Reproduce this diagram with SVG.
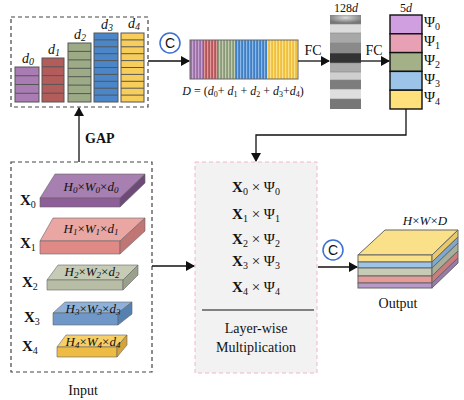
<svg xmlns="http://www.w3.org/2000/svg" width="464" height="400" viewBox="0 0 464 400">
<style>
.t{font-family:"Liberation Serif",serif;fill:#111}
.i{font-style:italic}
.b{font-weight:bold}
.dash{fill:none;stroke:#444;stroke-width:1.2;stroke-dasharray:4 3}
.seg{stroke:#555;stroke-width:1}
.line{fill:none;stroke:#111;stroke-width:1.3}
.circ{fill:#fff;stroke:#3a6fd0;stroke-width:1.5}
.ct{font-family:"Liberation Sans",sans-serif;font-size:14px;fill:#111}
.sl{stroke:#666;stroke-width:0.6}
.ob{stroke:#666;stroke-width:1}
.sb{font-size:13px}
</style>
<defs>
<marker id="ah" markerWidth="10" markerHeight="10" refX="8" refY="5" orient="auto" markerUnits="userSpaceOnUse">
<path d="M0,0 L9,5 L0,10 Z" fill="#111"/>
</marker>
<pattern id="pP" width="3" height="10" patternUnits="userSpaceOnUse"><rect width="3" height="10" fill="#9a6ea6"/><rect width="1.2" height="10" fill="#c6a3d0"/></pattern>
<pattern id="pR" width="3" height="10" patternUnits="userSpaceOnUse"><rect width="3" height="10" fill="#b5555a"/><rect width="1.2" height="10" fill="#e09a9a"/></pattern>
<pattern id="pG" width="3" height="10" patternUnits="userSpaceOnUse"><rect width="3" height="10" fill="#8a9a78"/><rect width="1.2" height="10" fill="#c3ccb0"/></pattern>
<pattern id="pB" width="3" height="10" patternUnits="userSpaceOnUse"><rect width="3" height="10" fill="#3f7fc6"/><rect width="1.2" height="10" fill="#8cb8e6"/></pattern>
<pattern id="pY" width="3" height="10" patternUnits="userSpaceOnUse"><rect width="3" height="10" fill="#f0bf3c"/><rect width="1.2" height="10" fill="#fbe08a"/></pattern>
<radialGradient id="gTop" cx="0.5" cy="0.3" r="0.6"><stop offset="0" stop-color="#d8d8d8"/><stop offset="1" stop-color="#777"/></radialGradient>
</defs>

<g id="gap-features">
<rect class="dash" x="11" y="17" width="137" height="90"/>
<rect x="15" y="67" width="24" height="35" fill="#a97db4" stroke="#555"/>
<path class="seg" d="M15,75.75H39M15,84.5H39M15,93.25H39"/>
<rect x="42" y="58" width="22" height="44" fill="#b35c5c" stroke="#555"/>
<path class="seg" d="M42,66.8H64M42,75.6H64M42,84.4H64M42,93.2H64"/>
<rect x="68" y="43" width="23" height="59" fill="#9cab86" stroke="#555"/>
<path class="seg" d="M68,51.4H91M68,59.9H91M68,68.3H91M68,76.7H91M68,85.1H91M68,93.6H91"/>
<rect x="94" y="33" width="24" height="69" fill="#4a86c8" stroke="#555"/>
<path class="seg" d="M94,39.9H118M94,46.8H118M94,53.7H118M94,60.6H118M94,67.5H118M94,74.4H118M94,81.3H118M94,88.2H118M94,95.1H118"/>
<rect x="121" y="33" width="23" height="69" fill="#f7cd5c" stroke="#555"/>
<path class="seg" d="M121,39.9H144M121,46.8H144M121,53.7H144M121,60.6H144M121,67.5H144M121,74.4H144M121,81.3H144M121,88.2H144M121,95.1H144"/>
<text class="t i" x="22" y="63" font-size="14">d<tspan font-size="10" dy="2">0</tspan></text>
<text class="t i" x="48" y="54" font-size="14">d<tspan font-size="10" dy="2">1</tspan></text>
<text class="t i" x="74" y="39" font-size="14">d<tspan font-size="10" dy="2">2</tspan></text>
<text class="t i" x="101" y="29" font-size="14">d<tspan font-size="10" dy="2">3</tspan></text>
<text class="t i" x="128" y="28" font-size="14">d<tspan font-size="10" dy="2">4</tspan></text>
</g>

<g id="concat-vector">
<rect x="190" y="40" width="13" height="39" fill="url(#pP)"/>
<rect x="203" y="40" width="15" height="39" fill="url(#pR)"/>
<rect x="218" y="40" width="17" height="39" fill="url(#pG)"/>
<rect x="235" y="40" width="32" height="39" fill="url(#pB)"/>
<rect x="267" y="40" width="31" height="39" fill="url(#pY)"/>
<rect x="190" y="40" width="108" height="39" fill="none" stroke="#666" stroke-width="1"/>
<text class="t" x="243" y="95" font-size="12" text-anchor="middle"><tspan class="i">D</tspan> = (<tspan class="i">d</tspan><tspan font-size="8" dy="2">0</tspan><tspan dy="-2">+ </tspan><tspan class="i">d</tspan><tspan font-size="8" dy="2">1</tspan><tspan dy="-2"> + </tspan><tspan class="i">d</tspan><tspan font-size="8" dy="2">2</tspan><tspan dy="-2"> + </tspan><tspan class="i">d</tspan><tspan font-size="8" dy="2">3</tspan><tspan dy="-2">+</tspan><tspan class="i">d</tspan><tspan font-size="8" dy="2">4</tspan><tspan dy="-2">)</tspan></text>
</g>

<g id="fc-128d">
<rect x="330" y="15" width="31" height="9" fill="url(#gTop)"/>
<rect x="330" y="24" width="31" height="9" fill="#dcdcdc"/>
<rect x="330" y="33" width="31" height="10" fill="#a8a8a8"/>
<rect x="330" y="43" width="31" height="10" fill="#8a8a8a"/>
<rect x="330" y="53" width="31" height="10" fill="#333"/>
<rect x="330" y="63" width="31" height="9" fill="#ababab"/>
<rect x="330" y="72" width="31" height="8" fill="#cfcfcf"/>
<rect x="330" y="80" width="31" height="9" fill="#7d7d7d"/>
<rect x="330" y="89" width="31" height="10" fill="#dedede"/>
<rect x="330" y="99" width="31" height="10" fill="#777"/>
<path d="M330,24H361M330,33H361M330,43H361M330,53H361M330,63H361M330,72H361M330,80H361M330,89H361M330,99H361" stroke="#888" stroke-width="0.6"/>
<text class="t" x="346" y="12" font-size="12" text-anchor="middle">128<tspan class="i">d</tspan></text>
</g>

<g id="fc-5d">
<rect x="390" y="15" width="32" height="18.8" fill="#cf9fe0" stroke="#111" stroke-width="1.4"/>
<rect x="390" y="33.8" width="32" height="18.8" fill="#e8a0b4" stroke="#111" stroke-width="1.4"/>
<rect x="390" y="52.6" width="32" height="18.8" fill="#a4b088" stroke="#111" stroke-width="1.4"/>
<rect x="390" y="71.4" width="32" height="18.8" fill="#9cc4e8" stroke="#111" stroke-width="1.4"/>
<rect x="390" y="90.2" width="32" height="18.8" fill="#ffe07a" stroke="#111" stroke-width="1.4"/>
<text class="t" x="406" y="12" font-size="12" text-anchor="middle">5<tspan class="i">d</tspan></text>
<text class="t" x="424" y="27" font-size="15">Ψ<tspan font-size="10" dy="3">0</tspan></text>
<text class="t" x="424" y="46" font-size="15">Ψ<tspan font-size="10" dy="3">1</tspan></text>
<text class="t" x="424" y="65" font-size="15">Ψ<tspan font-size="10" dy="3">2</tspan></text>
<text class="t" x="424" y="84" font-size="15">Ψ<tspan font-size="10" dy="3">3</tspan></text>
<text class="t" x="424" y="102" font-size="15">Ψ<tspan font-size="10" dy="3">4</tspan></text>
</g>

<g id="input">
<rect class="dash" x="11" y="162" width="141" height="210"/>
<polygon points="55,174 145,174 120,198 40,198" fill="#a77fb0" class="sl"/>
<polygon points="40,198 120,198 120,207 40,207" fill="#8e5e98" class="sl"/>
<polygon points="120,198 145,174 145,183 120,207" fill="#6e4a78" class="sl"/>
<text class="t i sb" x="91" y="191" text-anchor="middle">H<tspan font-size="9" dy="2">0</tspan><tspan dy="-2" font-style="normal">×</tspan>W<tspan font-size="9" dy="2">0</tspan><tspan dy="-2" font-style="normal">×</tspan>d<tspan font-size="9" dy="2">0</tspan></text>
<text class="t b" x="20" y="205" font-size="15">X<tspan font-size="10" font-weight="normal" dy="3">0</tspan></text>

<polygon points="53,218 145,218 120,241 40,241" fill="#e9a6a3" class="sl"/>
<polygon points="40,241 120,241 120,254 40,254" fill="#e08a88" class="sl"/>
<polygon points="120,241 145,218 145,231 120,254" fill="#c07674" class="sl"/>
<text class="t i sb" x="91" y="233" text-anchor="middle">H<tspan font-size="9" dy="2">1</tspan><tspan dy="-2" font-style="normal">×</tspan>W<tspan font-size="9" dy="2">1</tspan><tspan dy="-2" font-style="normal">×</tspan>d<tspan font-size="9" dy="2">1</tspan></text>
<text class="t b" x="20" y="248" font-size="15">X<tspan font-size="10" font-weight="normal" dy="3">1</tspan></text>

<polygon points="58,265 138,265 123,280 47,280" fill="#c6cbb6" class="sl"/>
<polygon points="47,280 123,280 123,290 47,290" fill="#b8bea6" class="sl"/>
<polygon points="123,280 138,265 138,275 123,290" fill="#9aa18b" class="sl"/>
<text class="t i sb" x="92" y="276" text-anchor="middle">H<tspan font-size="9" dy="2">2</tspan><tspan dy="-2" font-style="normal">×</tspan>W<tspan font-size="9" dy="2">2</tspan><tspan dy="-2" font-style="normal">×</tspan>d<tspan font-size="9" dy="2">2</tspan></text>
<text class="t b" x="22" y="287" font-size="15">X<tspan font-size="10" font-weight="normal" dy="3">2</tspan></text>

<polygon points="65,302 132,302 118,313 53,313" fill="#8fb1d9" class="sl"/>
<polygon points="53,313 118,313 118,325 53,325" fill="#6f98c8" class="sl"/>
<polygon points="118,313 132,302 132,314 118,325" fill="#5580b0" class="sl"/>
<text class="t i sb" x="93" y="313" text-anchor="middle">H<tspan font-size="9" dy="2">3</tspan><tspan dy="-2" font-style="normal">×</tspan>W<tspan font-size="9" dy="2">3</tspan><tspan dy="-2" font-style="normal">×</tspan>d<tspan font-size="9" dy="2">3</tspan></text>
<text class="t b" x="24" y="322" font-size="15">X<tspan font-size="10" font-weight="normal" dy="3">3</tspan></text>

<polygon points="66,335 127,335 117,347 57,347" fill="#f6d066" class="sl"/>
<polygon points="57,347 117,347 117,357 57,357" fill="#eebb45" class="sl"/>
<polygon points="117,347 127,335 127,345 117,357" fill="#d6a23a" class="sl"/>
<text class="t i sb" x="93" y="346" text-anchor="middle">H<tspan font-size="9" dy="2">4</tspan><tspan dy="-2" font-style="normal">×</tspan>W<tspan font-size="9" dy="2">4</tspan><tspan dy="-2" font-style="normal">×</tspan>d<tspan font-size="9" dy="2">4</tspan></text>
<text class="t b" x="22" y="351" font-size="15">X<tspan font-size="10" font-weight="normal" dy="3">4</tspan></text>
<text class="t" x="83" y="395" font-size="14" text-anchor="middle">Input</text>
</g>

<g id="multiplication">
<rect x="195" y="162" width="122" height="211" fill="#f2f2f2" stroke="#f2b8c2" stroke-width="1" stroke-dasharray="4 3"/>
<text class="t" x="256" y="192" font-size="15" text-anchor="middle"><tspan font-weight="bold">X</tspan><tspan font-size="10" dy="3">0</tspan><tspan dy="-3"> × Ψ</tspan><tspan font-size="10" dy="3">0</tspan></text>
<text class="t" x="256" y="219" font-size="15" text-anchor="middle"><tspan font-weight="bold">X</tspan><tspan font-size="10" dy="3">1</tspan><tspan dy="-3"> × Ψ</tspan><tspan font-size="10" dy="3">1</tspan></text>
<text class="t" x="256" y="244" font-size="15" text-anchor="middle"><tspan font-weight="bold">X</tspan><tspan font-size="10" dy="3">2</tspan><tspan dy="-3"> × Ψ</tspan><tspan font-size="10" dy="3">2</tspan></text>
<text class="t" x="256" y="266" font-size="15" text-anchor="middle"><tspan font-weight="bold">X</tspan><tspan font-size="10" dy="3">3</tspan><tspan dy="-3"> × Ψ</tspan><tspan font-size="10" dy="3">3</tspan></text>
<text class="t" x="256" y="292" font-size="15" text-anchor="middle"><tspan font-weight="bold">X</tspan><tspan font-size="10" dy="3">4</tspan><tspan dy="-3"> × Ψ</tspan><tspan font-size="10" dy="3">4</tspan></text>
<line x1="202" y1="310" x2="314" y2="310" stroke="#111" stroke-width="1.2"/>
<text class="t" x="256" y="333" font-size="14" text-anchor="middle">Layer-wise</text>
<text class="t" x="256" y="352" font-size="14" text-anchor="middle">Multiplication</text>
</g>

<g id="output">
<polygon points="385,230 458,230 432,255 358,255" fill="#fbe08a" class="ob"/>
<rect x="358" y="255" width="74" height="7" fill="#fbe08a" class="ob"/>
<rect x="358" y="262" width="74" height="6" fill="#9dc3e6" class="ob"/>
<rect x="358" y="268" width="74" height="8" fill="#c5cbb5" class="ob"/>
<rect x="358" y="276" width="74" height="7" fill="#e79a9a" class="ob"/>
<rect x="358" y="283" width="74" height="5" fill="#b89ac8" class="ob"/>
<polygon points="432,255 458,230 458,237 432,262" fill="#e8c86a" class="ob"/>
<polygon points="432,262 458,237 458,243 432,268" fill="#7fa8d0" class="ob"/>
<polygon points="432,268 458,243 458,251 432,276" fill="#a8af98" class="ob"/>
<polygon points="432,276 458,251 458,258 432,283" fill="#cc7c7c" class="ob"/>
<polygon points="432,283 458,258 458,263 432,288" fill="#9a7cab" class="ob"/>
<text class="t i" x="425" y="225" font-size="13" text-anchor="middle">H<tspan font-style="normal">×</tspan>W<tspan font-style="normal">×</tspan>D</text>
<text class="t" x="398" y="308" font-size="14" text-anchor="middle">Output</text>
</g>

<g id="connectors">
<line class="line" x1="148" y1="61" x2="189" y2="61" marker-end="url(#ah)"/>
<circle class="circ" cx="170" cy="43" r="10"/>
<text class="ct" x="170" y="48" text-anchor="middle">C</text>
<line class="line" x1="298" y1="61" x2="329" y2="61" marker-end="url(#ah)"/>
<text class="t" x="313" y="55" font-size="14" text-anchor="middle">FC</text>
<line class="line" x1="361" y1="61" x2="389" y2="61" marker-end="url(#ah)"/>
<text class="t" x="374" y="55" font-size="14" text-anchor="middle">FC</text>
<polyline class="line" points="406,109 406,135 256,135 256,161" marker-end="url(#ah)"/>
<line class="line" x1="79" y1="162" x2="79" y2="108" marker-end="url(#ah)"/>
<text class="t b" x="85" y="143" font-size="14">GAP</text>
<line class="line" x1="152" y1="266" x2="194" y2="266" marker-end="url(#ah)"/>
<line class="line" x1="318" y1="267" x2="357" y2="267" marker-end="url(#ah)"/>
<circle class="circ" cx="333" cy="250" r="10"/>
<text class="ct" x="333" y="255" text-anchor="middle">C</text>
</g>
</svg>
